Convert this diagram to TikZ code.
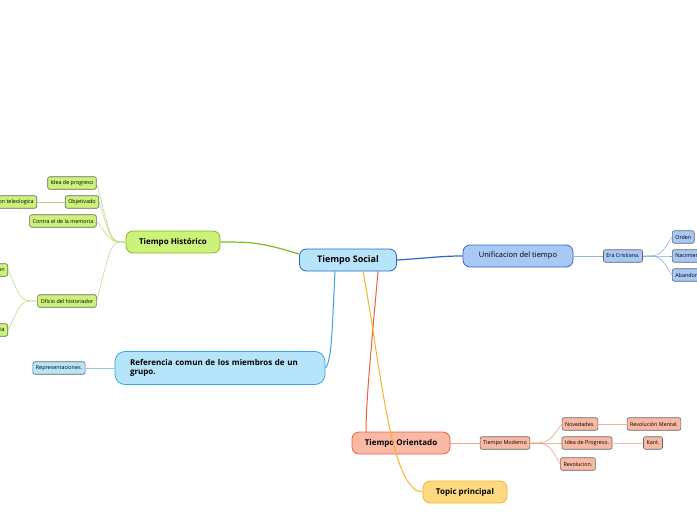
\documentclass[tikz,border=0pt]{standalone}
\usepackage{fontspec}
\setmainfont{Open Sans}
\begin{document}
\begin{tikzpicture}[x=1pt,y=-1pt,
 big/.style={draw,rounded corners=7pt,line width=0.8pt,minimum height=22pt,font=\fontsize{8}{9}\selectfont\bfseries,inner xsep=6pt},
 sm/.style={draw=black!60,rounded corners=2pt,line width=0.6pt,minimum height=12.5pt,font=\fontsize{5.4}{6.5}\selectfont,inner xsep=3pt,inner ysep=1pt},
 gr/.style={fill=grfill},bl/.style={fill=blfill},rd/.style={fill=rdfill},
 conn/.style={line width=0.5pt}]
\definecolor{grfill}{HTML}{CCF27A}\definecolor{grline}{HTML}{84B81C}
\definecolor{blfill}{HTML}{A8C8F5}\definecolor{blline}{HTML}{2F66CC}
\definecolor{cyfill}{HTML}{B6E4FA}\definecolor{cyline}{HTML}{3BA3E0}
\definecolor{rdfill}{HTML}{F9B9A4}\definecolor{rdline}{HTML}{E8603A}
\definecolor{orfill}{HTML}{FFD980}\definecolor{orline}{HTML}{F5B325}
\useasboundingbox (0,0) rectangle (697,520);
\node[big,fill=cyfill,draw=blline,minimum width=97pt] (ts) at (348,260) {\fontsize{9}{10}\selectfont Tiempo Social};
\node[big,fill=grfill,draw=grline,minimum width=94pt] (th) at (173,242) {Tiempo Histórico};
\node[big,fill=blfill,draw=blline,minimum width=110pt,font=\fontsize{7.5}{9}\selectfont] (un) at (518,256) {Unificacion del tiempo};
\node[big,fill=cyfill,draw=cyline,minimum width=210pt,minimum height=33pt,align=left,text width=180pt,rounded corners=10pt] (rf) at (220,368) {Referencia comun de los miembros de un\\grupo.};
\node[big,fill=rdfill,draw=rdline,minimum width=98pt] (to) at (401,443) {Tiempo Orientado};
\node[big,fill=orfill,draw=orline,minimum width=84pt] (tp) at (465,492) {Topic principal};
\coordinate (toin) at (366,432);
% green
\node[sm,gr] (ip) at (72,183) {Idea de progreso};
\node[sm,gr] (ob) at (82,202) {Objetivado};
\node[sm,gr,anchor=east] (vt) at (37,202) {Vision teleologica};
\node[sm,gr] (cm) at (63,221) {Contra el de la memoria};
\node[sm,gr] (oh) at (67,301) {Oficio del historiador};
\node[sm,gr,anchor=east] (l1) at (8,270) {Explicacion};
\node[sm,gr,anchor=east] (l2) at (8,330) {Memoria};
% blue
\node[sm,bl] (ec) at (623,256) {Era Cristiana.};
\node[sm,bl,anchor=west] (or) at (672,237) {Orden};
\node[sm,bl,anchor=west] (na) at (672,256) {Nacimiento};
\node[sm,bl,anchor=west] (ab) at (672,275) {Abandono};
\node[sm,fill=cyfill] (rp) at (59,368) {Representaciones.};
% red
\node[sm,rd] (tm) at (505,443) {Tiempo Moderno};
\node[sm,rd] (nv) at (580,424) {Novedades.};
\node[sm,rd] (rm) at (654,424) {Revolución Mental.};
\node[sm,rd] (ipg) at (587,443) {Idea de Progreso.};
\node[sm,rd] (ka) at (653,443) {Kant.};
\node[sm,rd] (rv) at (578,464) {Revolucion.};
% main connectors
\draw[grline,line width=1.2pt] (ts.west) ++(0,-6) coordinate (a) .. controls (260,242) and (250,242) .. (th.east);
\draw[blline,line width=1.2pt] (ts.east) .. controls (430,258) and (440,256) .. (un.west);
\draw[cyline,line width=1pt] (ts.south) ++(-13,0) coordinate (b) .. controls (332,330) and (332,360) .. (rf.east);
\draw[rdline,line width=1pt] (ts.south) ++(30,0) coordinate (c) .. controls (372,340) and (366,400) .. (toin);
\draw[orline,line width=1pt] (ts.south) ++(15,0) coordinate (d) .. controls (380,360) and (390,492) .. (tp.west);
% green subs
\foreach \n in {ip,ob,cm,oh}{\draw[grline!60,conn] (th.west) .. controls (110,242) and (112,242) .. (\n.east);}
\draw[grline!60,conn] (ob.west) -- (vt.east);
\foreach \n in {l1,l2}{\draw[grline!60,conn] (oh.west) .. controls (20,301) and (22,301) .. (\n.east);}
% blue subs
\draw[blline!50,conn] (un.east) -- (ec.west);
\foreach \n in {or,na,ab}{\draw[blline!60,conn] (ec.east) .. controls (660,256) and (660,256) .. (\n.west);}
\draw[cyline!60,conn] (rf.west) -- (rp.east);
% red subs
\draw[rdline!60,conn] (to.east) -- (tm.west);
\foreach \n in {nv,ipg,rv}{\draw[rdline!70,conn] (tm.east) .. controls (548,443) and (548,443) .. (\n.west);}
\draw[rdline!50,conn] (nv.east) -- (rm.west);
\draw[rdline!40,conn] (ipg.east) -- (ka.west);
\end{tikzpicture}
\end{document}
